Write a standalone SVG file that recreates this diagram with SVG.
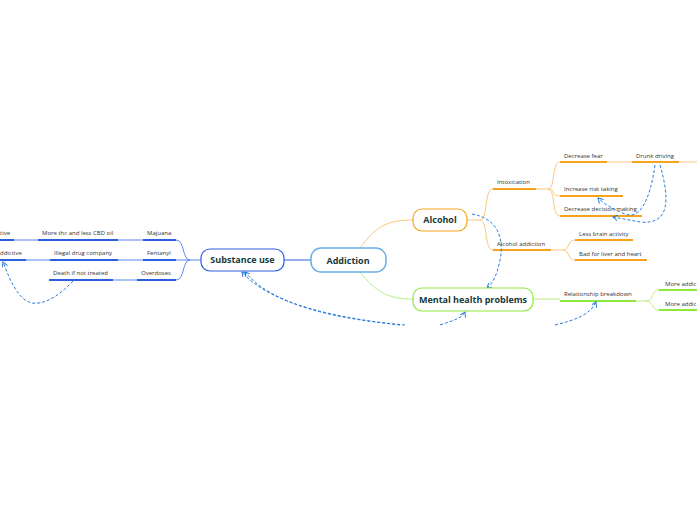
<svg xmlns="http://www.w3.org/2000/svg" width="697" height="520" viewBox="0 0 697 520">
<style>
.t{font-family:"Open Sans","Noto Sans",sans-serif;font-size:6px;fill:#333}
.n{font-family:"Open Sans","Noto Sans",sans-serif;font-size:9px;font-weight:bold;fill:#1a3a3a;text-anchor:middle}
.b{fill:none;stroke:#2a5fe0;stroke-width:2}
.bl{fill:none;stroke:#5b86f0;stroke-width:1}
.o{fill:none;stroke:#f7a21b;stroke-width:2}
.ol{fill:none;stroke:#fbc77a;stroke-width:1}
.g{fill:none;stroke:#8ee83a;stroke-width:2}
.gl{fill:none;stroke:#b8f080;stroke-width:1}
.d{fill:none;stroke:#2a7de0;stroke-width:1;stroke-dasharray:3,2}
</style>
<defs><marker id="a" markerWidth="6" markerHeight="6" refX="5" refY="3" orient="auto"><path d="M0,0 L5,3 L0,6" fill="none" stroke="#2a7de0" stroke-width="1"/></marker></defs>
<g id="connectors">
<path class="ol" d="M360,248 C375,228 385,220 413,220"/>
<path class="gl" d="M360,272 C375,290 385,299 413,299" stroke="#8ee83a"/>
<path d="M284,260 H311" stroke="#2a5fe0" stroke-width="1"/>
<path class="bl" d="M201,260 H190 C182,260 185,240 176,240 M190,260 H176 M190,260 C182,260 185,280 176,280"/>
<path class="bl" d="M143,240 H118 M38,240 H14 M143,260 H118 M50,260 H26 M137,280 H113"/>
<path class="b" d="M143,240 H176 M143,260 H176 M137,280 H176 M38,240 H118 M50,260 H118 M49,280 H113 M0,240 H14 M0,260 H26"/>
<path class="ol" d="M467,220 H480 C488,220 484,189 493,189 M480,220 C488,220 484,250 493,250"/>
<path class="o" d="M493,189 H536 M493,250 H551"/>
<path class="ol" d="M536,189 H548 C556,189 551,162 560,162 M548,189 C556,189 551,196 560,196 M548,189 C556,189 551,216 560,216 M607,162 H632 M679,162 H697"/>
<path class="o" d="M560,162 H607 M560,196 H623 M560,216 H642 M632,162 H679"/>
<path class="ol" d="M551,250 H563 C570,250 567,240 575,240 M563,250 C570,250 567,260 575,260"/>
<path class="o" d="M575,240 H633 M575,260 H647"/>
<path class="gl" d="M533,299 H560"/>
<path class="g" d="M560,301 H636 M659,290 H697 M659,310 H697"/>
<path class="gl" d="M636,301 H646 C654,301 651,290 659,290 M646,301 C654,301 651,310 659,310"/>
<path class="d" d="M655,165 C650,200 640,220 625,214 C615,210 605,205 598,198" marker-end="url(#a)"/>
<path class="d" d="M660,165 C670,200 670,225 640,222 L613,217" marker-end="url(#a)"/>
<path class="d" d="M472,214 C495,218 505,235 500,260 C497,275 493,283 487,288" marker-end="url(#a)"/>
<path class="d" d="M440,325 C455,320 462,318 465,312" marker-end="url(#a)"/>
<path class="d" d="M555,325 C575,320 590,315 596,302" marker-end="url(#a)"/>
<path class="d" d="M400,325 C340,318 270,305 242,272" marker-end="url(#a)"/>
<path class="d" d="M405,325 C345,320 275,308 245,272" marker-end="url(#a)"/>
<path class="d" d="M73,281 C60,295 45,305 32,303 C18,300 10,280 3,262" marker-end="url(#a)"/>
</g>
<g id="addiction"><rect x="311" y="248" width="75" height="24" rx="10" fill="#fff" stroke="#6aaee8" stroke-width="1.5"/><text class="n" x="348" y="263.5" font-size="10">Addiction</text></g>
<g id="substance"><rect x="201" y="249" width="83" height="22" rx="9" fill="#fff" stroke="#2a5fe0" stroke-width="1.2"/><text class="n" x="242.5" y="263">Substance use</text></g>
<g id="alcohol"><rect x="413" y="209" width="54" height="22" rx="9" fill="#fff" stroke="#f7a21b" stroke-width="1.2"/><text class="n" x="440" y="223">Alcohol</text></g>
<g id="mental"><rect x="413" y="288" width="120" height="23" rx="9" fill="#fff" stroke="#8ee83a" stroke-width="1.2"/><text class="n" x="473" y="302.5">Mental health problems</text></g>
<g id="labels">
<text class="t" x="147" y="235">Majuana</text>
<text class="t" x="147" y="255">Fentanyl</text>
<text class="t" x="141" y="275">Overdoses</text>
<text class="t" x="42" y="235">More thc and less CBD oil</text>
<text class="t" x="54" y="255">Illegal drug company</text>
<text class="t" x="53" y="275">Death if not treated</text>
<text class="t" x="0" y="235">tive</text>
<text class="t" x="0" y="255">ddictive</text>
<text class="t" x="497" y="184">Intoxication</text>
<text class="t" x="497" y="246">Alcohol addiction</text>
<text class="t" x="564" y="158">Decrease fear</text>
<text class="t" x="636" y="158">Drunk driving</text>
<text class="t" x="564" y="191">Increase risk taking</text>
<text class="t" x="564" y="211">Decrease decision making</text>
<text class="t" x="579" y="236">Less brain activity</text>
<text class="t" x="579" y="256">Bad for liver and heart</text>
<text class="t" x="564" y="296">Relationship breakdown</text>
<text class="t" x="665" y="286">More addic</text>
<text class="t" x="665" y="306">More addic</text>
</g>
</svg>
